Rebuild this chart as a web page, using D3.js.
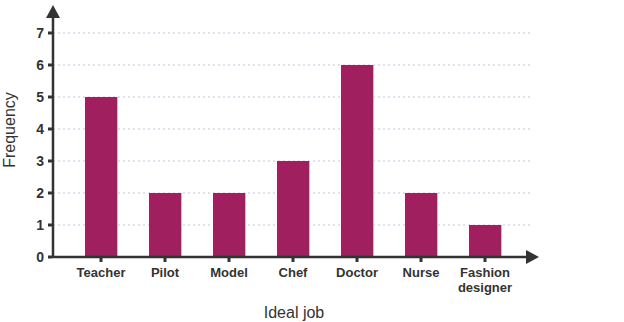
<!DOCTYPE html>
<html><head><meta charset="utf-8">
<script src="https://cdn.jsdelivr.net/npm/d3@7"></script>
<style>body{margin:0;background:#fff}svg{display:block}</style>
</head><body>
<svg id="c" width="624" height="322"></svg>
<script>
const categories = ["Teacher","Pilot","Model","Chef","Doctor","Nurse","Fashion designer"];
const categoryLines = [["Teacher"],["Pilot"],["Model"],["Chef"],["Doctor"],["Nurse"],["Fashion","designer"]];
const values = [5,2,2,3,6,2,1];
const yTicks = [0,1,2,3,4,5,6,7];

const svg = d3.select("#c");
const ax = 53, ay = 257;
const x = d3.scaleBand().domain(categories).range([69,517]).paddingInner(0.5).paddingOuter(0.25);
const y = d3.scaleLinear().domain([0,7]).range([ay,33]);
const ink = "#333";
const font = "Liberation Sans, Arial, sans-serif";

// gridlines
svg.append("g").selectAll("line").data(yTicks.filter(d=>d>0)).join("line")
  .attr("x1",ax).attr("x2",533).attr("y1",d=>y(d)).attr("y2",d=>y(d))
  .attr("stroke","#e4e1ee").attr("stroke-width",2).attr("stroke-dasharray","2,3");

// bars
svg.append("g").selectAll("rect").data(values).join("rect")
  .attr("x",(d,i)=>x(categories[i])).attr("width",x.bandwidth())
  .attr("y",d=>y(d)).attr("height",d=>ay-y(d))
  .attr("fill","#a01f5e");
svg.append("g").selectAll("line").data(values).join("line")
  .attr("x1",(d,i)=>x(categories[i])+x.bandwidth()+0.5).attr("x2",(d,i)=>x(categories[i])+x.bandwidth()+0.5)
  .attr("y1",d=>y(d)).attr("y2",ay).attr("stroke","#e6a9c8").attr("stroke-width",1);

// axes lines
svg.append("line").attr("x1",ax).attr("x2",ax).attr("y1",ay+1).attr("y2",12).attr("stroke",ink).attr("stroke-width",2.5);
svg.append("path").attr("d",`M${ax-7},${18} L${ax},${5} L${ax+7},${18} Z`).attr("fill",ink);
svg.append("line").attr("x1",ax-1).attr("x2",528).attr("y1",ay).attr("y2",ay).attr("stroke",ink).attr("stroke-width",2.5);
svg.append("path").attr("d",`M${526},${ay-7} L${539},${ay} L${526},${ay+7} Z`).attr("fill",ink);

// y ticks
const yt = svg.append("g");
yt.selectAll("rect").data(yTicks).join("rect")
  .attr("x",ax-5).attr("y",d=>y(d)-1.5).attr("width",4).attr("height",3).attr("fill",ink);
yt.selectAll("text").data(yTicks).join("text")
  .attr("x",44).attr("y",d=>y(d)).attr("dy","0.36em").attr("text-anchor","end")
  .attr("font-family",font).attr("font-weight","bold").attr("font-size",14)
  .attr("fill",ink).text(d=>d);

// x ticks
const xt = svg.append("g");
xt.selectAll("rect").data(categories).join("rect")
  .attr("x",d=>x(d)+x.bandwidth()/2-1.5).attr("y",ay+1).attr("width",3).attr("height",4).attr("fill",ink);
xt.selectAll("text").data(categoryLines).join("text")
  .attr("x",(d,i)=>x(categories[i])+x.bandwidth()/2).attr("y",277).attr("text-anchor","middle")
  .attr("font-family",font).attr("font-weight","bold").attr("font-size",13)
  .attr("fill",ink)
  .each(function(d){
    d3.select(this).selectAll("tspan").data(d).join("tspan")
      .attr("x",d3.select(this).attr("x")).attr("dy",(t,j)=>j===0?0:"1.15em").text(t=>t);
  });

// titles
svg.append("text").attr("x",294).attr("y",318).attr("text-anchor","middle")
  .attr("font-family",font).attr("font-size",16).attr("fill",ink).text("Ideal job");
svg.append("text").attr("transform","translate(15,130) rotate(-90)").attr("text-anchor","middle")
  .attr("font-family",font).attr("font-size",16).attr("fill",ink).text("Frequency");
</script>
</body></html>
